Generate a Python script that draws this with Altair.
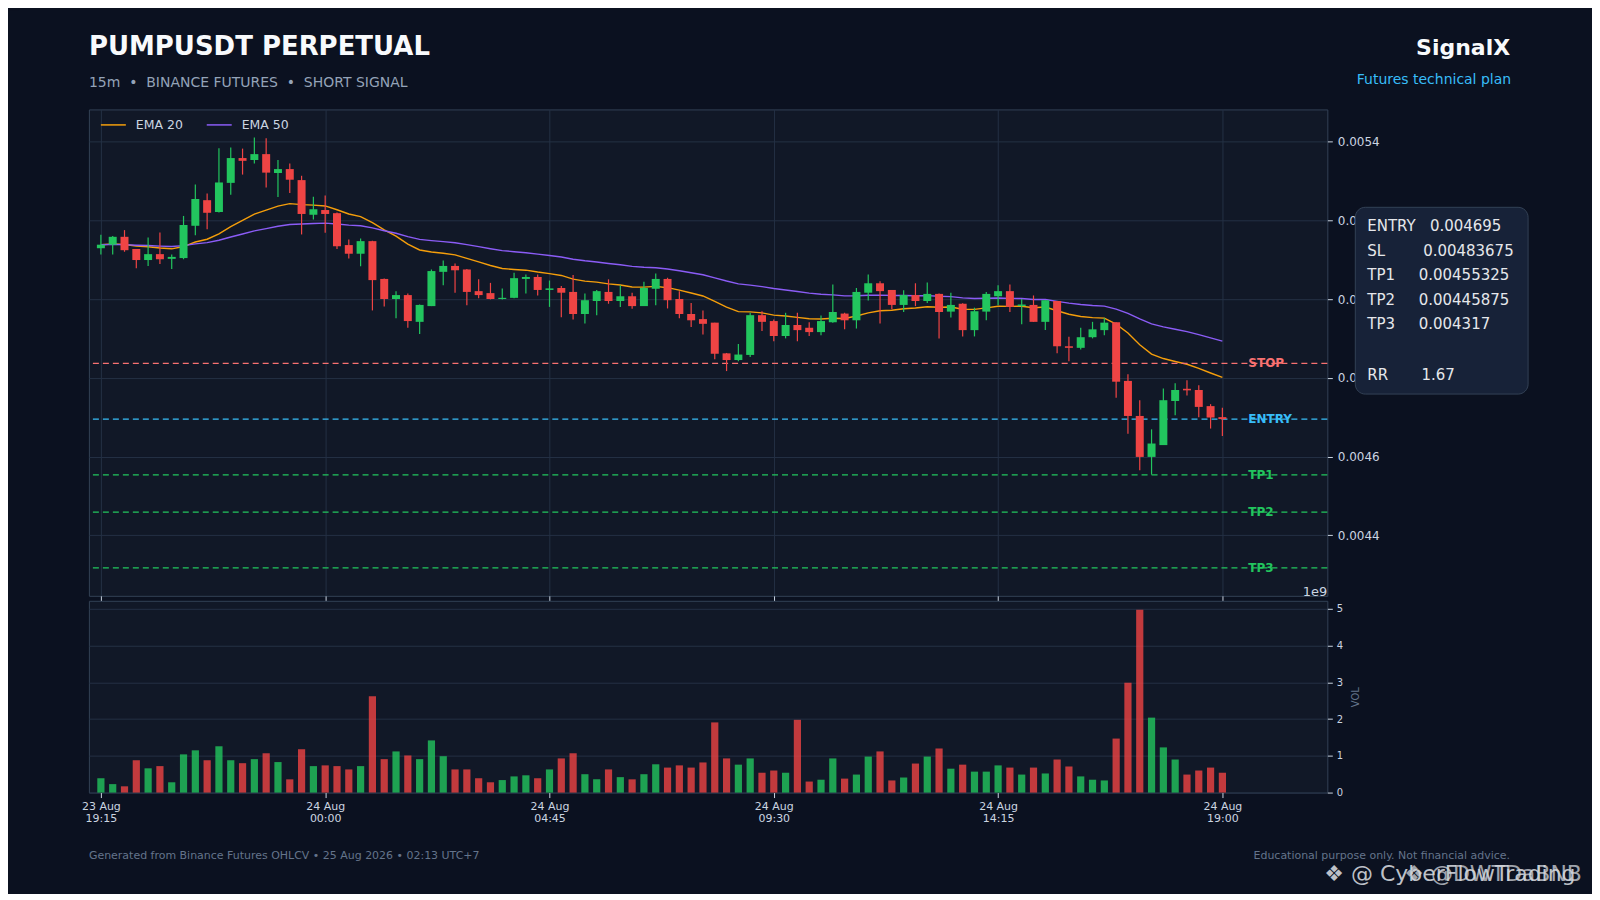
import altair as alt
import pandas as pd
import numpy as np

# ---------------- data ----------------
TITLE = "PUMPUSDT PERPETUAL"
SUBTITLE = "15m\u00a0\u00a0•\u00a0\u00a0BINANCE FUTURES\u00a0\u00a0•\u00a0\u00a0SHORT SIGNAL"
BRAND = "SignalX"
BRAND_SUB = "Futures technical plan"
FOOTER_LEFT = "Generated from Binance Futures OHLCV • 25 Aug 2026 • 02:13 UTC+7"
FOOTER_RIGHT = "Educational purpose only. Not financial advice."
WATERMARK_1 = "\u2756 @ CyberFlowTrading"
WATERMARK_2 = "\u2756 @DWTDaBNB"

tick_index = [0, 19, 38, 57, 76, 95]
tick_labels = [["23 Aug", "19:15"], ["24 Aug", "00:00"], ["24 Aug", "04:45"],
               ["24 Aug", "09:30"], ["24 Aug", "14:15"], ["24 Aug", "19:00"]]

opens = [0.005129, 0.005138, 0.005158, 0.005127, 0.005099, 0.005114, 0.005102, 0.005104, 0.005186, 0.005251,
         0.005221, 0.005295, 0.005358, 0.005353, 0.005368, 0.005320, 0.005330, 0.005302, 0.005214, 0.005226,
         0.005218, 0.005137, 0.005115, 0.005147, 0.005051, 0.005000, 0.005010, 0.004942, 0.004982, 0.005069,
         0.005084, 0.005075, 0.005020, 0.005015, 0.005000, 0.005003, 0.005051, 0.005056, 0.005023, 0.005028,
         0.005018, 0.004962, 0.004995, 0.005018, 0.004995, 0.005007, 0.004982, 0.005026, 0.005051, 0.005000,
         0.004962, 0.004949, 0.004940, 0.004862, 0.004845, 0.004858, 0.004959, 0.004944, 0.004906, 0.004934,
         0.004927, 0.004916, 0.004941, 0.004963, 0.004946, 0.005016, 0.005040, 0.005023, 0.004985, 0.005010,
         0.004995, 0.005013, 0.004968, 0.004988, 0.004921, 0.004968, 0.005007, 0.005020, 0.004982, 0.004985,
         0.004942, 0.004995, 0.004880, 0.004876, 0.004903, 0.004921, 0.004941, 0.004792, 0.004703, 0.004599,
         0.004629, 0.004741, 0.004772, 0.004769, 0.004728, 0.004700]
highs = [0.005163, 0.005160, 0.005175, 0.005127, 0.005156, 0.005169, 0.005113, 0.005211, 0.005291, 0.005268,
         0.005383, 0.005385, 0.005382, 0.005410, 0.005408, 0.005353, 0.005344, 0.005313, 0.005260, 0.005263,
         0.005220, 0.005151, 0.005154, 0.005148, 0.005052, 0.005020, 0.005014, 0.004986, 0.005075, 0.005098,
         0.005090, 0.005076, 0.005050, 0.005041, 0.005027, 0.005067, 0.005062, 0.005062, 0.005047, 0.005033,
         0.005061, 0.005014, 0.005023, 0.005050, 0.005035, 0.005016, 0.005044, 0.005065, 0.005054, 0.005020,
         0.004990, 0.004971, 0.004940, 0.004863, 0.004886, 0.004965, 0.004969, 0.004948, 0.004965, 0.004965,
         0.004941, 0.004958, 0.005037, 0.004965, 0.005028, 0.005062, 0.005045, 0.005023, 0.005022, 0.005040,
         0.005042, 0.005014, 0.005016, 0.004989, 0.004978, 0.005018, 0.005035, 0.005037, 0.005000, 0.005009,
         0.004997, 0.004995, 0.004904, 0.004927, 0.004942, 0.004952, 0.004941, 0.004809, 0.004743, 0.004669,
         0.004773, 0.004786, 0.004794, 0.004781, 0.004733, 0.004724]
lows = [0.005113, 0.005113, 0.005120, 0.005078, 0.005084, 0.005089, 0.005076, 0.005101, 0.005162, 0.005177,
        0.005220, 0.005265, 0.005316, 0.005344, 0.005283, 0.005259, 0.005269, 0.005164, 0.005202, 0.005168,
        0.005127, 0.005103, 0.005083, 0.004971, 0.004981, 0.004951, 0.004927, 0.004911, 0.004982, 0.005035,
        0.005016, 0.004984, 0.005002, 0.004999, 0.004999, 0.005002, 0.005014, 0.005009, 0.004980, 0.004954,
        0.004948, 0.004938, 0.004959, 0.004988, 0.004980, 0.004975, 0.004982, 0.004984, 0.004976, 0.004951,
        0.004929, 0.004910, 0.004847, 0.004817, 0.004842, 0.004853, 0.004919, 0.004893, 0.004900, 0.004893,
        0.004906, 0.004908, 0.004940, 0.004923, 0.004925, 0.004996, 0.004938, 0.004974, 0.004967, 0.004982,
        0.004990, 0.004900, 0.004953, 0.004905, 0.004905, 0.004946, 0.004985, 0.004967, 0.004936, 0.004942,
        0.004921, 0.004862, 0.004842, 0.004872, 0.004900, 0.004908, 0.004749, 0.004658, 0.004565, 0.004554,
        0.004629, 0.004705, 0.004755, 0.004700, 0.004671, 0.004652]
closes = [0.005138, 0.005158, 0.005124, 0.005099, 0.005114, 0.005101, 0.005107, 0.005188, 0.005254, 0.005219,
          0.005296, 0.005358, 0.005351, 0.005368, 0.005321, 0.005330, 0.005303, 0.005216, 0.005228, 0.005216,
          0.005134, 0.005115, 0.005147, 0.005048, 0.005000, 0.005010, 0.004944, 0.004985, 0.005071, 0.005084,
          0.005073, 0.005018, 0.005010, 0.005000, 0.005003, 0.005053, 0.005056, 0.005023, 0.005027, 0.005016,
          0.004962, 0.004997, 0.005020, 0.004995, 0.005007, 0.004982, 0.005028, 0.005051, 0.004997, 0.004962,
          0.004946, 0.004937, 0.004861, 0.004845, 0.004859, 0.004959, 0.004942, 0.004906, 0.004934, 0.004921,
          0.004916, 0.004944, 0.004967, 0.004946, 0.005018, 0.005040, 0.005020, 0.004985, 0.005010, 0.004995,
          0.005013, 0.004967, 0.004985, 0.004921, 0.004969, 0.005013, 0.005020, 0.004980, 0.004986, 0.004942,
          0.004997, 0.004880, 0.004876, 0.004903, 0.004923, 0.004940, 0.004790, 0.004703, 0.004599, 0.004633,
          0.004743, 0.004769, 0.004768, 0.004726, 0.004699, 0.004695]
volumes = [0.39, 0.23, 0.17, 0.88, 0.66, 0.72, 0.28, 1.04, 1.15, 0.88,
           1.26, 0.88, 0.80, 0.91, 1.07, 0.83, 0.36, 1.18, 0.72, 0.74,
           0.72, 0.63, 0.72, 2.62, 0.91, 1.12, 1.01, 0.91, 1.42, 0.99,
           0.63, 0.63, 0.39, 0.28, 0.34, 0.44, 0.47, 0.39, 0.63, 0.93,
           1.07, 0.50, 0.36, 0.63, 0.42, 0.36, 0.50, 0.77, 0.68, 0.74,
           0.68, 0.82, 1.91, 0.93, 0.76, 0.93, 0.54, 0.60, 0.54, 1.98,
           0.30, 0.35, 0.93, 0.38, 0.49, 0.98, 1.12, 0.33, 0.41, 0.79,
           0.98, 1.20, 0.65, 0.76, 0.57, 0.57, 0.74, 0.68, 0.49, 0.68,
           0.52, 0.90, 0.71, 0.44, 0.35, 0.33, 1.47, 2.99, 4.98, 2.04,
           1.23, 0.90, 0.49, 0.60, 0.68, 0.54]

level_names = ["STOP", "ENTRY", "TP1", "TP2", "TP3"]
level_values = [0.00483675, 0.004695, 0.00455325, 0.00445875, 0.004317]
info_labels = ["ENTRY", "SL", "TP1", "TP2", "TP3"]
info_values = ["0.004695", "0.00483675", "0.00455325", "0.00445875", "0.004317"]
info_gaps = [3, 8, 5, 5, 5]
rr_label, rr_value, rr_gap = "RR", "1.67", 7

price_ticks = [0.0044, 0.0046, 0.0048, 0.0050, 0.0052, 0.0054]
vol_ticks = [0, 1, 2, 3, 4, 5]

# ---------------- style ----------------
BG = "#0b1120"
PANEL = "#111827"
BORDER = "#334155"
GRID = "#243044"
TXT = "#cbd5e1"
GREEN = "#22c55e"
RED = "#ef4444"
ORANGE = "#f59e0b"
PURPLE = "#8b5cf6"
STOPC = "#f87171"
ENTRYC = "#38bdf8"
FONT = "DejaVu Sans"

W = 1240
H_PRICE = 487
H_VOL = 192

n = len(closes)
df = pd.DataFrame({"i": np.arange(n), "open": opens, "high": highs, "low": lows,
                   "close": closes, "vol": volumes})
df["color"] = np.where(df["close"] >= df["open"], GREEN, RED)

ema = pd.concat([
    pd.DataFrame({"i": df["i"], "value": df["close"].ewm(span=20, adjust=False).mean(), "series": "EMA 20"}),
    pd.DataFrame({"i": df["i"], "value": df["close"].ewm(span=50, adjust=False).mean(), "series": "EMA 50"}),
])

levels = pd.DataFrame({"name": level_names, "value": level_values,
                       "color": [STOPC, ENTRYC, GREEN, GREEN, GREEN]})
levels["lx"] = n + 1.2

NB = "\u00a0"
info_lines = [lab + NB * g + val for lab, g, val in zip(info_labels, info_gaps, info_values)]
rr_line = rr_label + NB * rr_gap + rr_value

x_scale = alt.Scale(domain=[-1.016, 103.89], nice=False, zero=False, padding=0)
y_scale = alt.Scale(domain=[0.0042462, 0.0054815], nice=False, zero=False, padding=0)
v_scale = alt.Scale(domain=[0, 5.22], nice=False, zero=True, padding=0)

x_axis_top = alt.Axis(values=tick_index, labels=False, ticks=True, tickSize=5, grid=True,
                      domain=False, title=None, tickColor=TXT, gridColor=GRID)
y_axis_price = alt.Axis(orient="right", values=price_ticks, format=".4f", title=None, grid=True,
                        gridColor=GRID, tickSize=5, tickColor=TXT, labelColor=TXT,
                        labelFontSize=12, labelPadding=5, domain=False)

label_expr = ""
for idx, (a, b) in zip(tick_index, tick_labels):
    label_expr += f"datum.value == {idx} ? ['{a}', '{b}'] : "
label_expr += "''"

x_axis_vol = alt.Axis(values=tick_index, labelExpr=label_expr, grid=False, domain=False, title=None,
                      tickSize=5, tickColor=TXT, labelColor=TXT, labelFontSize=11,
                      labelLineHeight=12, labelPadding=3)
y_axis_vol = alt.Axis(orient="right", values=vol_ticks, format="d", title="VOL", grid=True,
                      gridColor=GRID, tickSize=5, tickColor=TXT, labelColor=TXT, labelFontSize=10,
                      labelPadding=4, domain=False, titleAngle=270, titleX=28, titleY=H_VOL / 2,
                      titleColor="#64748b", titleFontSize=10, titleFontWeight="normal",
                      titleAlign="center", titleBaseline="middle")


def X(field="i"):
    return alt.X(f"{field}:Q", scale=x_scale, axis=x_axis_top)


def Y(field):
    return alt.Y(f"{field}:Q", scale=y_scale, axis=y_axis_price)


base = alt.Chart(df)

ema_lines = alt.Chart(ema).mark_line(strokeWidth=1.4).encode(
    x=X(), y=Y("value"),
    color=alt.Color("series:N", scale=alt.Scale(domain=["EMA 20", "EMA 50"], range=[ORANGE, PURPLE]),
                    legend=alt.Legend(title=None, orient="none", legendX=11, legendY=2,
                                      direction="horizontal", symbolType="stroke", symbolSize=625,
                                      symbolStrokeWidth=1.5, labelColor=TXT, labelFontSize=12.5,
                                      labelFont=FONT, labelOffset=9, columnPadding=20, padding=0)),
)

level_rules = alt.Chart(levels).mark_rule(strokeWidth=1.3, strokeDash=[6, 4]).encode(
    y=Y("value"), stroke=alt.Stroke("color:N", scale=None)
)
level_text = alt.Chart(levels).mark_text(align="left", baseline="middle", fontSize=12,
                                         fontWeight="bold", font=FONT).encode(
    x=X("lx"), y=Y("value"), text="name:N", fill=alt.Fill("color:N", scale=None)
)

wicks = base.mark_rule(strokeWidth=1.2).encode(
    x=X(), y=Y("low"), y2="high", stroke=alt.Stroke("color:N", scale=None)
)
bodies = base.mark_bar(size=8).encode(
    x=X(), y=Y("open"), y2="close", fill=alt.Fill("color:N", scale=None)
)

one = pd.DataFrame({"k": [0]})


def txt(text, x, y, size, color, weight="normal", align="left", baseline="middle", **kw):
    return alt.Chart(one).mark_text(text=text, fontSize=size, color=color, fontWeight=weight,
                                    align=align, baseline=baseline, font=FONT, **kw).encode(
        x=alt.value(x), y=alt.value(y))


title_t = txt(TITLE, 0, -62, 26, "#f8fafc", "bold")
sub_t = txt(SUBTITLE, 0, -26.6, 14, "#94a3b8")
brand_t = txt(BRAND, 1423, -61, 22, "#f8fafc", "bold", align="right")
brand_sub_t = txt(BRAND_SUB, 1424, -29.6, 14, ENTRYC, align="right")

info_box = alt.Chart(one).mark_rect(fill="#172238", stroke="#334155", strokeWidth=1,
                                    cornerRadius=10).encode(
    x=alt.value(1268), x2=alt.value(1441), y=alt.value(98), y2=alt.value(285))
info_text = txt(info_lines, 1280, 121.8, 15, "#e5e7eb", baseline="alphabetic", lineHeight=24.6)
rr_text = txt(rr_line, 1280, 121.8 + 6 * 24.8, 15, "#e5e7eb", baseline="alphabetic")

anchor_tl = alt.Chart(one).mark_rule(color=BG, strokeWidth=1).encode(
    x=alt.value(-80), x2=alt.value(-70), y=alt.value(-99.5), y2=alt.value(-99.5))

price = alt.layer(
    anchor_tl, ema_lines, level_rules, wicks, bodies, level_text,
    info_box, info_text, rr_text, title_t, sub_t, brand_t, brand_sub_t
).properties(width=W, height=H_PRICE)

vol_bars = base.mark_bar(size=7.2, opacity=0.8).encode(
    x=alt.X("i:Q", scale=x_scale, axis=x_axis_vol),
    y=alt.Y("vol:Q", scale=v_scale, axis=y_axis_vol),
    fill=alt.Fill("color:N", scale=None),
)
offset_t = txt("1e9", W, -9, 13, TXT, align="right")
foot_l = txt(FOOTER_LEFT, 0, 256, 11, "#64748b")
foot_r = txt(FOOTER_RIGHT, 1423, 256, 11, "#64748b", align="right")
wm1 = txt(WATERMARK_1, 1237, 274, 22, "#d1d5db", opacity=0.9)
wm2 = txt(WATERMARK_2, 1317, 274, 22, "#d1d5db", opacity=0.75)
anchor_br = alt.Chart(one).mark_rule(color=BG, strokeWidth=1).encode(
    x=alt.value(1494), x2=alt.value(1504), y=alt.value(291.5), y2=alt.value(291.5))

volume = alt.layer(vol_bars, offset_t, foot_l, foot_r, wm1, wm2, anchor_br).properties(
    width=W, height=H_VOL)

chart = alt.vconcat(price, volume, spacing=5, bounds="flush").properties(
    padding=0, background=BG
).configure(font=FONT).configure_view(
    fill=PANEL, stroke=BORDER, strokeWidth=1
).configure_axis(labelFont=FONT, titleFont=FONT)

chart.save("out.html", embed_options={"renderer": "svg", "actions": False})
